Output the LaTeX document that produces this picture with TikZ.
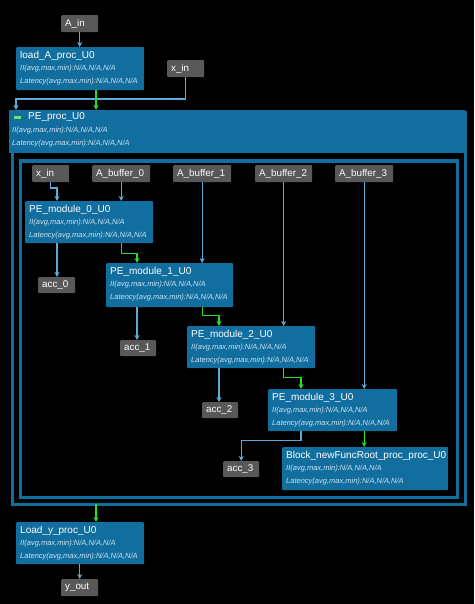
\documentclass[tikz,border=0pt]{standalone}
\usepackage{fontspec}
\setmainfont{Liberation Sans}
\usetikzlibrary{arrows.meta,calc}
\definecolor{boxblue}{RGB}{18,110,158}
\definecolor{nodegray}{RGB}{88,88,88}
\definecolor{arrblue}{RGB}{95,170,215}
\definecolor{arrgreen}{RGB}{40,220,40}
\definecolor{subtxt}{RGB}{205,225,240}
\tikzset{
  gnode/.style={fill=nodegray, rounded corners=1pt, inner xsep=4pt, inner ysep=0pt,
    minimum height=17pt, text width=#1, align=left, anchor=north west,
    text=white, font=\fontsize{9.8}{11}\selectfont},
  bnode/.style={fill=boxblue, rounded corners=1pt, inner sep=0pt, anchor=north west},
  titletext/.style={anchor=west, inner sep=0pt, text=white, font=\fontsize{10}{12}\selectfont},
  smalltext/.style={anchor=west, inner sep=0pt, text=subtxt, font=\fontsize{7.5}{9}\selectfont\itshape},
  barrow/.style={draw=arrblue, line width=1.1pt, -{Stealth[length=5pt,width=5pt,inset=1.5pt]}},
  garrow/.style={draw=arrgreen, line width=1.1pt, -{Stealth[length=5pt,width=5pt,inset=1.5pt]}},
  frame/.style={draw=boxblue, line width=3pt, inner sep=0pt, anchor=north west},
}
\newcommand\boxtexts[2]{%
  \node[titletext] (#1t) at ([xshift=4pt,yshift=-8.5pt]#1.north west) {#2};
  \node[smalltext] (#1ii) at ([xshift=4pt,yshift=-21.5pt]#1.north west) {II(avg,max,min):N/A,N/A,N/A};
  \node[smalltext] (#1lat) at ([xshift=4pt,yshift=-34.5pt]#1.north west) {Latency(avg,max,min):N/A,N/A,N/A};
}
\begin{document}
\begin{tikzpicture}[x=1pt,y=-1pt]
\fill[black] (0,0) rectangle (474,604);
\useasboundingbox (0,0) rectangle (474,604);

% PE_proc container
\fill[boxblue] (9,110) rectangle (465,153);
\node[frame, minimum width=453pt, minimum height=391pt] (peproc) at (10.5,111.5) {};
\node[frame, minimum width=437pt, minimum height=336pt] (peinner) at (18.5,159.5) {};
\draw[draw=arrgreen!70!white, line width=2.4pt] (14,117.5) -- (21,117.5);
\node[titletext] (pet) at (28,117.5) {PE\_proc\_U0};
\node[smalltext] (peii) at (12,131) {II(avg,max,min):N/A,N/A,N/A};
\node[smalltext] (pelat) at (12,144) {Latency(avg,max,min):N/A,N/A,N/A};

% gray nodes
\node[gnode=29pt] (ain) at (61,15) {A\_in};
\node[gnode=29pt] (xin) at (167,60) {x\_in};
\node[gnode=29pt] (xin2) at (32,165) {x\_in};
\node[gnode=50pt] (ab0) at (92,165) {A\_buffer\_0};
\node[gnode=50pt] (ab1) at (173,165) {A\_buffer\_1};
\node[gnode=49pt] (ab2) at (255,165) {A\_buffer\_2};
\node[gnode=50pt] (ab3) at (335,165) {A\_buffer\_3};
\node[gnode=29pt, minimum height=16pt] (acc0) at (38,277) {acc\_0};
\node[gnode=28pt, minimum height=16pt] (acc1) at (120,340) {acc\_1};
\node[gnode=28pt, minimum height=16pt] (acc2) at (202,402) {acc\_2};
\node[gnode=28pt, minimum height=16pt] (acc3) at (223,461) {acc\_3};
\node[gnode=29pt] (yout) at (61,579) {y\_out};

% blue nodes
\node[bnode, minimum width=128pt, minimum height=43pt] (loadA) at (16,47) {};
\node[bnode, minimum width=128pt, minimum height=42pt] (pem0) at (25,201) {};
\node[bnode, minimum width=127pt, minimum height=44pt] (pem1) at (106,263) {};
\node[bnode, minimum width=128pt, minimum height=42pt] (pem2) at (187,326) {};
\node[bnode, minimum width=129pt, minimum height=42pt] (pem3) at (268,389) {};
\node[bnode, minimum width=166pt, minimum height=43pt] (block) at (282,447) {};
\node[bnode, minimum width=128pt, minimum height=42pt] (loady) at (16,522) {};
\boxtexts{loadA}{load\_A\_proc\_U0}
\boxtexts{pem0}{PE\_module\_0\_U0}
\boxtexts{pem1}{PE\_module\_1\_U0}
\boxtexts{pem2}{PE\_module\_2\_U0}
\boxtexts{pem3}{PE\_module\_3\_U0}
\boxtexts{block}{Block\_newFuncRoot\_proc\_proc\_U0}
\boxtexts{loady}{Load\_y\_proc\_U0}

% connectors
\coordinate (bx) at (16,99);
\coordinate (bpe) at (16,110);
\draw[barrow] (ain.south) -- (ain.south |- loadA.north);
\draw[barrow] (xin.south) |- (bx) -- (bpe);
\draw[garrow] ([xshift=80pt]loadA.south west) -- ([xshift=80pt]loadA.south west |- bpe);

\coordinate (bx2) at (57,188);
\draw[barrow] (xin2.south) |- (bx2) -- (bx2 |- pem0.north);
\draw[barrow] (ab0.south) -- (ab0.south |- pem0.north);
\draw[barrow] (ab1.south) -- (ab1.south |- pem1.north);
\draw[barrow] (ab2.south) -- (ab2.south |- pem2.north);
\draw[barrow] (ab3.south) -- (ab3.south |- pem3.north);

\draw[barrow] (bx2 |- pem0.south) -- (bx2 |- acc0.north);
\draw[barrow] ([xshift=31pt]pem1.south west) -- ([xshift=31pt]pem1.south west |- acc1.north);
\draw[barrow] ([xshift=32pt]pem2.south west) -- ([xshift=32pt]pem2.south west |- acc2.north);
\draw[barrow] ([xshift=33pt]pem3.south west) -- ++(0,9) -| (acc3.north);

\draw[garrow] (ab0.south |- pem0.south) -- ++(0,10) -| ([xshift=31pt]pem1.north west);
\draw[garrow] (ab1.south |- pem1.south) -- ++(0,8) -| ([xshift=32pt]pem2.north west);
\draw[garrow] (ab2.south |- pem2.south) -- ++(0,9) -| ([xshift=33pt]pem3.north west);
\draw[garrow] (ab3.south |- pem3.south) -- (ab3.south |- block.north);

\draw[garrow] ([xshift=80pt]loadA.south west |- 0,504) -- ([xshift=80pt]loady.north west);
\draw[barrow] (yout.north |- loady.south) -- (yout.north);
\end{tikzpicture}
\end{document}
